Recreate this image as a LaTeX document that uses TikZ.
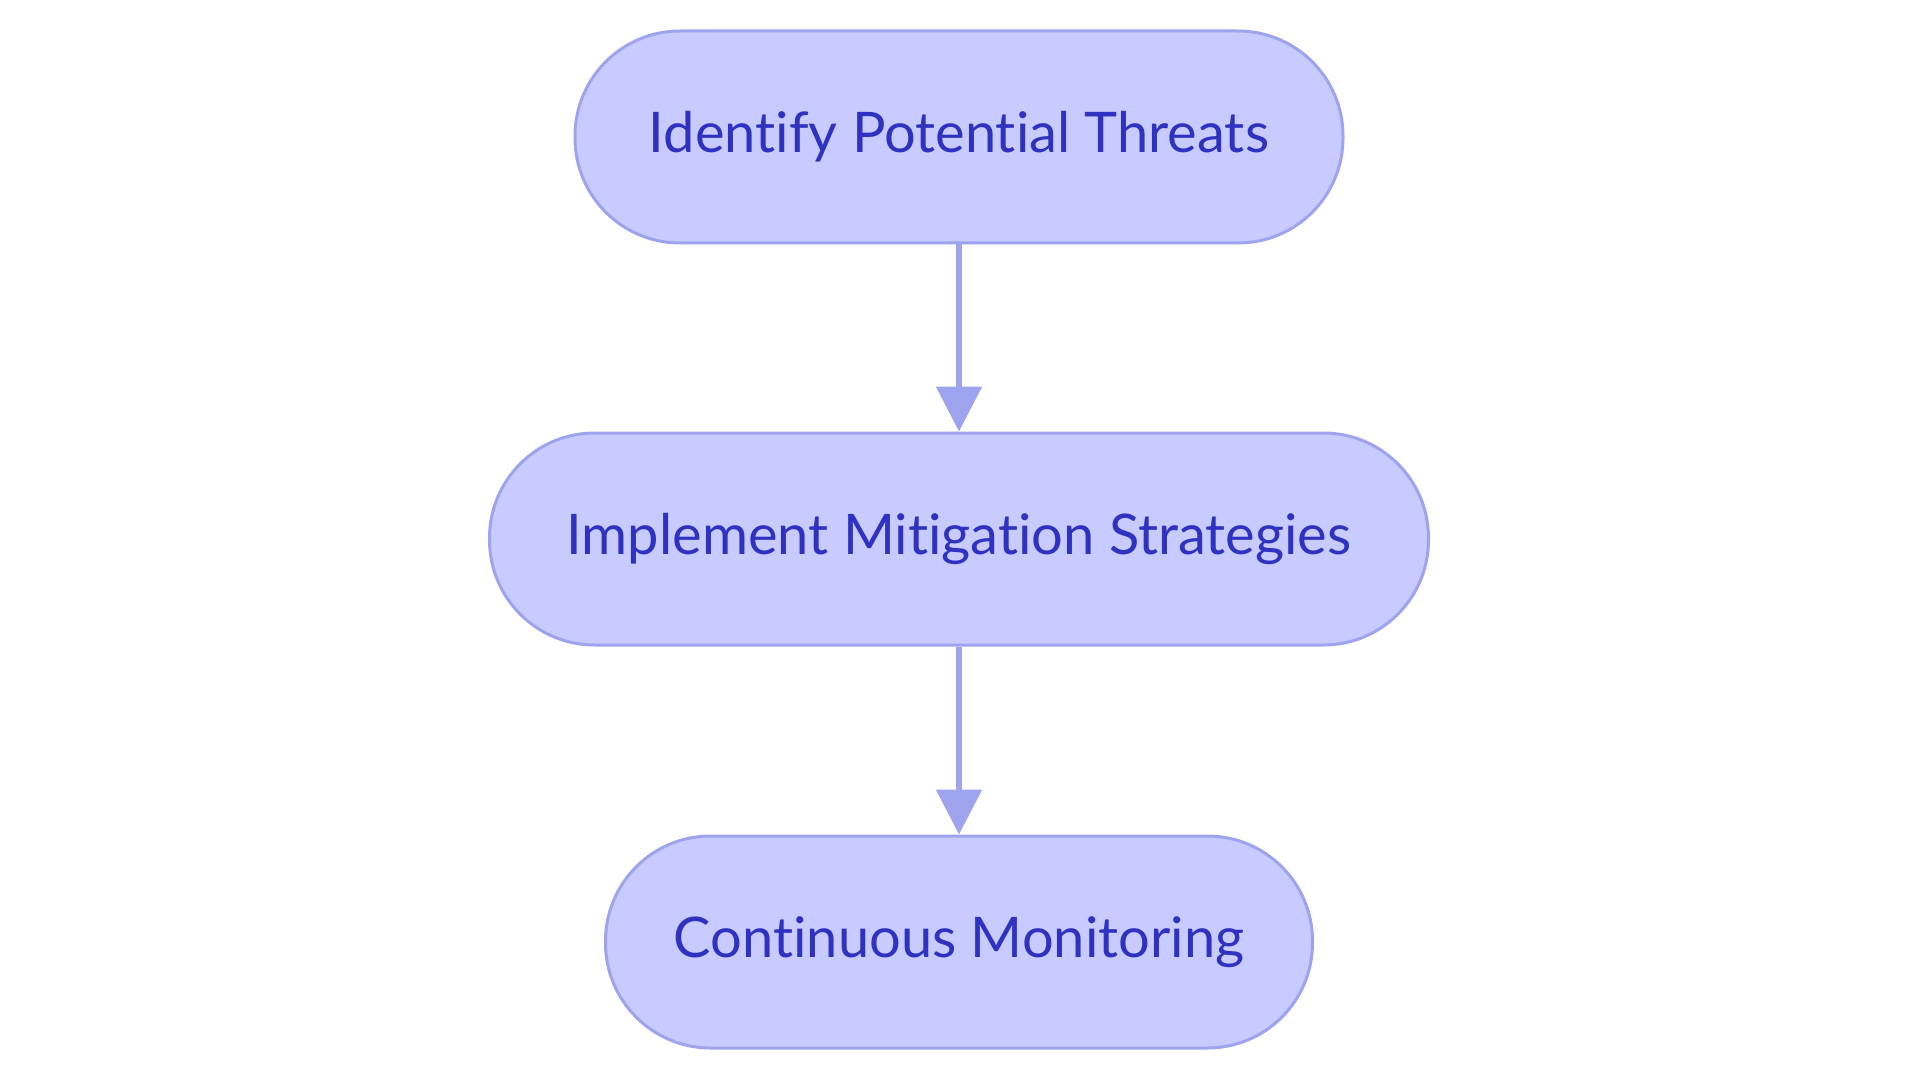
\documentclass[tikz,border=0pt]{standalone}
\usepackage{fontspec}
\setmainfont[RawFeature={-liga;-clig;-dlig}]{Lato}
\usetikzlibrary{arrows.meta}
\definecolor{boxfill}{HTML}{C8CBFF}
\definecolor{boxline}{HTML}{9EA3EE}
\definecolor{boxtext}{HTML}{2F32C0}
\newcommand\nh{212pt}

\begin{document}
\begin{tikzpicture}[
			x=1pt, y=-1pt,
			stage/.style={draw=boxline,fill=boxfill,line width=3pt,rounded corners=105pt,
				minimum height=\nh,text=boxtext,font=\fontsize{56}{60}\selectfont},
			flow/.style={draw=boxline,line width=5.5pt,-{Triangle[length=45pt,width=45pt]}}
		]
		\useasboundingbox (0,0) rectangle (1920,1083);
		\node [stage,minimum width=768pt] (s1) at (959,137) {Identify Potential Threats};
		\node [stage,minimum width=939pt] (s2) at (959,539) {Implement Mitigation Strategies};
		\node [stage,minimum width=707pt] (s3) at (959,942) {Continuous Monitoring};

		\draw[flow] (s1)--(s2);
		\draw[flow] (s2)--(s3);
	\end{tikzpicture}
\end{document}
